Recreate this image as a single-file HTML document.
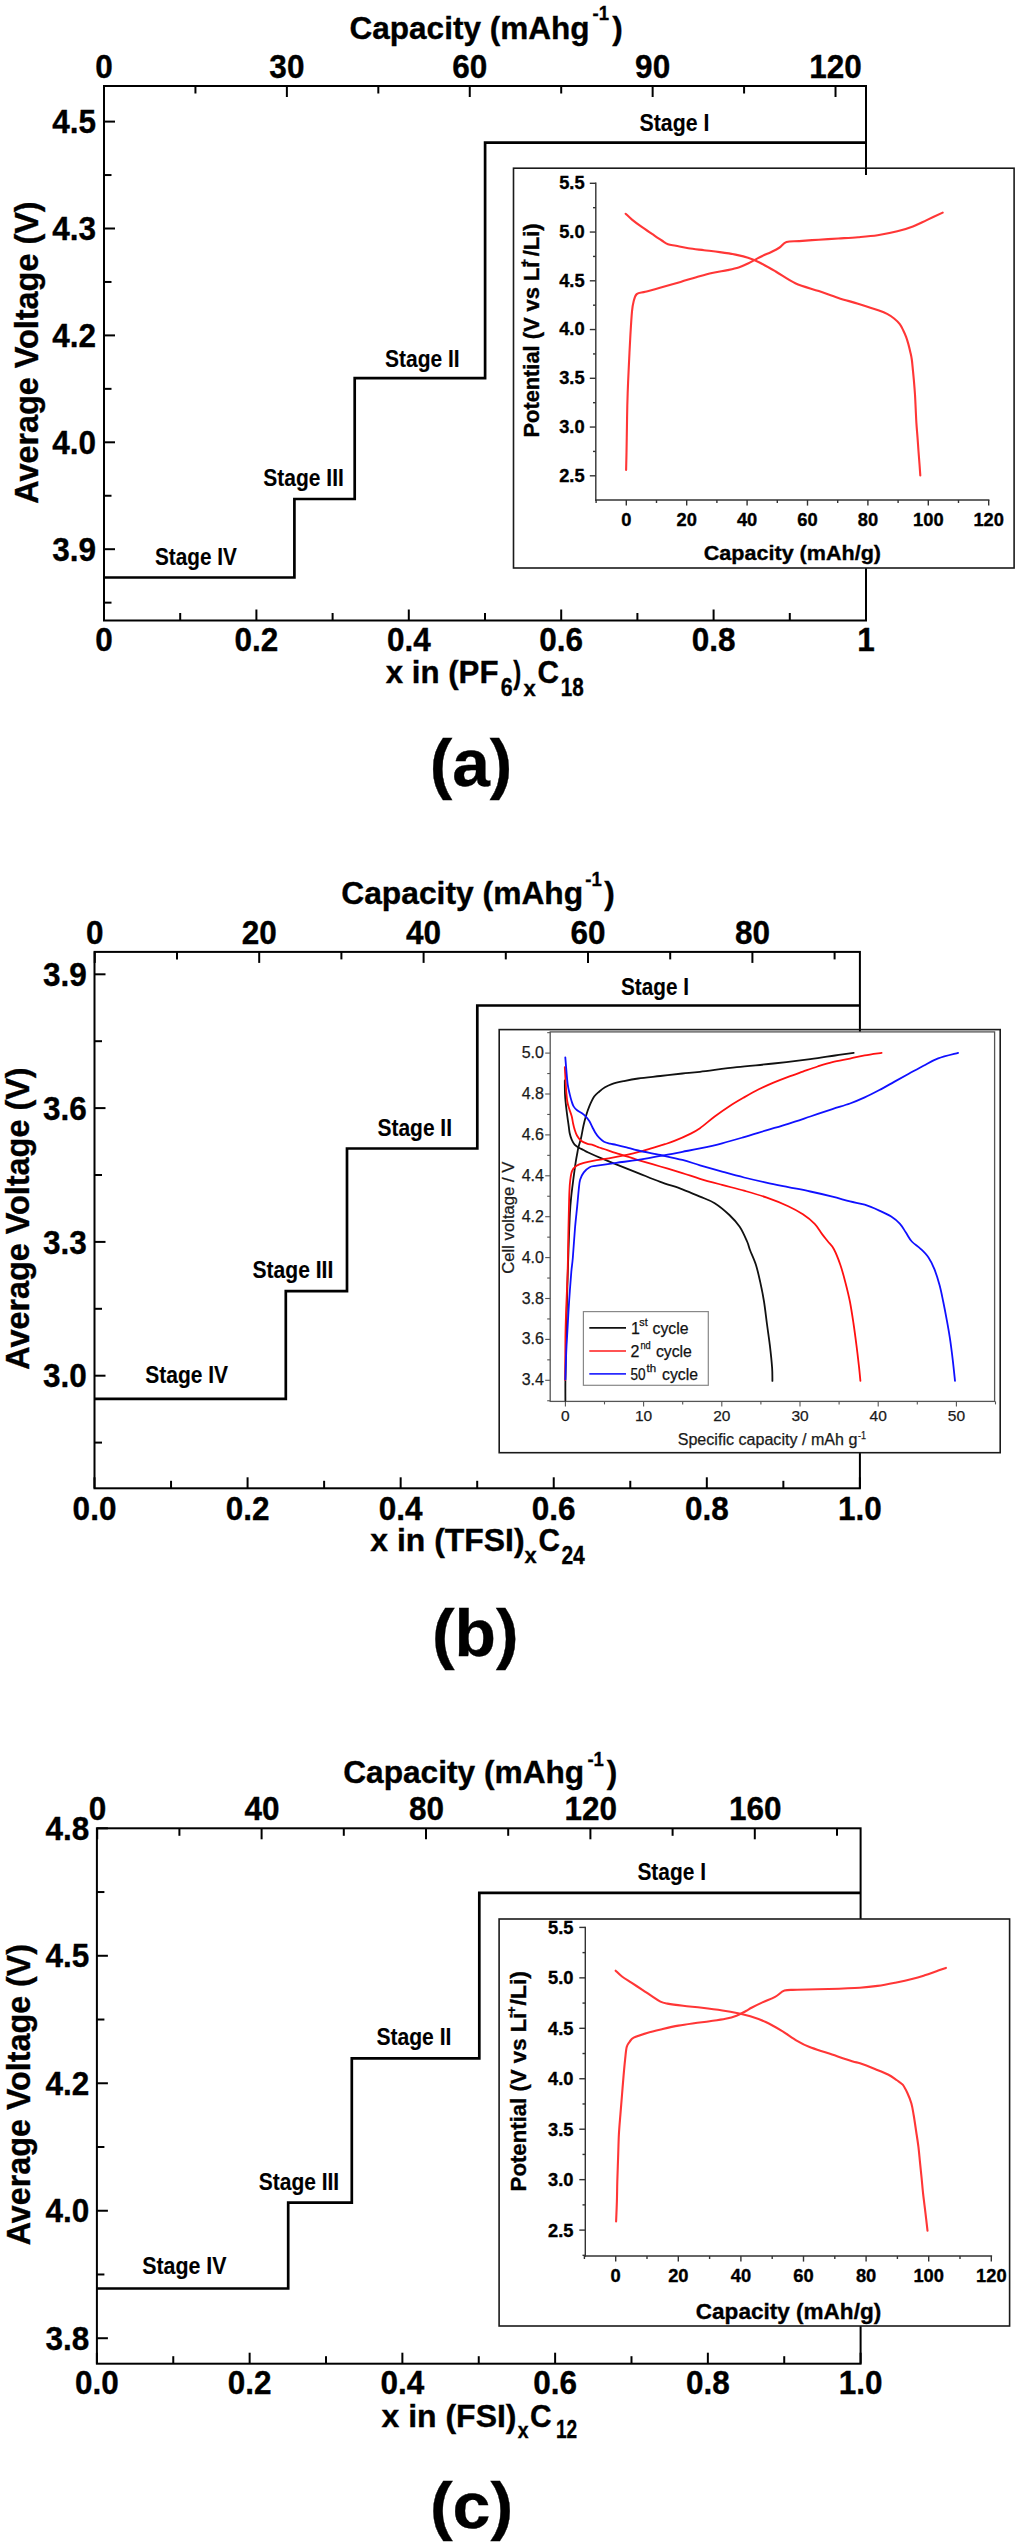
<!DOCTYPE html>
<html><head><meta charset="utf-8"><title>Figure</title>
<style>
html,body{margin:0;padding:0;background:#fff;}
body{width:1020px;height:2547px;overflow:hidden;}
svg{display:block;}
text{font-family:"Liberation Sans", Arial, Helvetica, sans-serif;}
</style></head><body>
<svg width="1020" height="2547" viewBox="0 0 1020 2547">
<rect x="0" y="0" width="1020" height="2547" fill="#fff"/>
<rect x="104" y="86" width="762" height="534.5" fill="none" stroke="#000" stroke-width="2"/>
<line x1="104" y1="121.6" x2="115" y2="121.6" stroke="#000" stroke-width="2" stroke-linecap="butt"/>
<line x1="104" y1="175.05" x2="111.5" y2="175.05" stroke="#000" stroke-width="2" stroke-linecap="butt"/>
<line x1="104" y1="228.5" x2="115" y2="228.5" stroke="#000" stroke-width="2" stroke-linecap="butt"/>
<line x1="104" y1="281.95" x2="111.5" y2="281.95" stroke="#000" stroke-width="2" stroke-linecap="butt"/>
<line x1="104" y1="335.4" x2="115" y2="335.4" stroke="#000" stroke-width="2" stroke-linecap="butt"/>
<line x1="104" y1="388.85" x2="111.5" y2="388.85" stroke="#000" stroke-width="2" stroke-linecap="butt"/>
<line x1="104" y1="442.3" x2="115" y2="442.3" stroke="#000" stroke-width="2" stroke-linecap="butt"/>
<line x1="104" y1="495.75" x2="111.5" y2="495.75" stroke="#000" stroke-width="2" stroke-linecap="butt"/>
<line x1="104" y1="549.2" x2="115" y2="549.2" stroke="#000" stroke-width="2" stroke-linecap="butt"/>
<line x1="104" y1="602.65" x2="111.5" y2="602.65" stroke="#000" stroke-width="2" stroke-linecap="butt"/>
<line x1="104" y1="86" x2="104" y2="97" stroke="#000" stroke-width="2" stroke-linecap="butt"/>
<line x1="195.44" y1="86" x2="195.44" y2="93.5" stroke="#000" stroke-width="2" stroke-linecap="butt"/>
<line x1="286.88" y1="86" x2="286.88" y2="97" stroke="#000" stroke-width="2" stroke-linecap="butt"/>
<line x1="378.32" y1="86" x2="378.32" y2="93.5" stroke="#000" stroke-width="2" stroke-linecap="butt"/>
<line x1="469.76" y1="86" x2="469.76" y2="97" stroke="#000" stroke-width="2" stroke-linecap="butt"/>
<line x1="561.2" y1="86" x2="561.2" y2="93.5" stroke="#000" stroke-width="2" stroke-linecap="butt"/>
<line x1="652.64" y1="86" x2="652.64" y2="97" stroke="#000" stroke-width="2" stroke-linecap="butt"/>
<line x1="744.08" y1="86" x2="744.08" y2="93.5" stroke="#000" stroke-width="2" stroke-linecap="butt"/>
<line x1="835.52" y1="86" x2="835.52" y2="97" stroke="#000" stroke-width="2" stroke-linecap="butt"/>
<line x1="104" y1="620.5" x2="104" y2="609.5" stroke="#000" stroke-width="2" stroke-linecap="butt"/>
<line x1="180.2" y1="620.5" x2="180.2" y2="613" stroke="#000" stroke-width="2" stroke-linecap="butt"/>
<line x1="256.4" y1="620.5" x2="256.4" y2="609.5" stroke="#000" stroke-width="2" stroke-linecap="butt"/>
<line x1="332.6" y1="620.5" x2="332.6" y2="613" stroke="#000" stroke-width="2" stroke-linecap="butt"/>
<line x1="408.8" y1="620.5" x2="408.8" y2="609.5" stroke="#000" stroke-width="2" stroke-linecap="butt"/>
<line x1="485" y1="620.5" x2="485" y2="613" stroke="#000" stroke-width="2" stroke-linecap="butt"/>
<line x1="561.2" y1="620.5" x2="561.2" y2="609.5" stroke="#000" stroke-width="2" stroke-linecap="butt"/>
<line x1="637.4" y1="620.5" x2="637.4" y2="613" stroke="#000" stroke-width="2" stroke-linecap="butt"/>
<line x1="713.6" y1="620.5" x2="713.6" y2="609.5" stroke="#000" stroke-width="2" stroke-linecap="butt"/>
<line x1="789.8" y1="620.5" x2="789.8" y2="613" stroke="#000" stroke-width="2" stroke-linecap="butt"/>
<line x1="866" y1="620.5" x2="866" y2="609.5" stroke="#000" stroke-width="2" stroke-linecap="butt"/>
<text transform="translate(96 133.2) scale(1 1.03)" font-size="31.5" font-weight="bold" text-anchor="end" stroke="#000" stroke-width="0.35">4.5</text>
<text transform="translate(96 240.1) scale(1 1.03)" font-size="31.5" font-weight="bold" text-anchor="end" stroke="#000" stroke-width="0.35">4.3</text>
<text transform="translate(96 347) scale(1 1.03)" font-size="31.5" font-weight="bold" text-anchor="end" stroke="#000" stroke-width="0.35">4.2</text>
<text transform="translate(96 453.9) scale(1 1.03)" font-size="31.5" font-weight="bold" text-anchor="end" stroke="#000" stroke-width="0.35">4.0</text>
<text transform="translate(96 560.8) scale(1 1.03)" font-size="31.5" font-weight="bold" text-anchor="end" stroke="#000" stroke-width="0.35">3.9</text>
<text transform="translate(104 78.3) scale(1 1.03)" font-size="31.5" font-weight="bold" text-anchor="middle" stroke="#000" stroke-width="0.35">0</text>
<text transform="translate(286.88 78.3) scale(1 1.03)" font-size="31.5" font-weight="bold" text-anchor="middle" stroke="#000" stroke-width="0.35">30</text>
<text transform="translate(469.76 78.3) scale(1 1.03)" font-size="31.5" font-weight="bold" text-anchor="middle" stroke="#000" stroke-width="0.35">60</text>
<text transform="translate(652.64 78.3) scale(1 1.03)" font-size="31.5" font-weight="bold" text-anchor="middle" stroke="#000" stroke-width="0.35">90</text>
<text transform="translate(835.52 78.3) scale(1 1.03)" font-size="31.5" font-weight="bold" text-anchor="middle" stroke="#000" stroke-width="0.35">120</text>
<text transform="translate(104 651.3) scale(1 1.03)" font-size="31.5" font-weight="bold" text-anchor="middle" stroke="#000" stroke-width="0.35">0</text>
<text transform="translate(256.4 651.3) scale(1 1.03)" font-size="31.5" font-weight="bold" text-anchor="middle" stroke="#000" stroke-width="0.35">0.2</text>
<text transform="translate(408.8 651.3) scale(1 1.03)" font-size="31.5" font-weight="bold" text-anchor="middle" stroke="#000" stroke-width="0.35">0.4</text>
<text transform="translate(561.2 651.3) scale(1 1.03)" font-size="31.5" font-weight="bold" text-anchor="middle" stroke="#000" stroke-width="0.35">0.6</text>
<text transform="translate(713.6 651.3) scale(1 1.03)" font-size="31.5" font-weight="bold" text-anchor="middle" stroke="#000" stroke-width="0.35">0.8</text>
<text transform="translate(866 651.3) scale(1 1.03)" font-size="31.5" font-weight="bold" text-anchor="middle" stroke="#000" stroke-width="0.35">1</text>
<text transform="translate(349.5 38.8)" font-size="31.5" font-weight="bold" textLength="240" lengthAdjust="spacingAndGlyphs" stroke="#000" stroke-width="0.35">Capacity (mAhg</text>
<text transform="translate(592.5 20)" font-size="20" font-weight="bold" textLength="16.5" lengthAdjust="spacingAndGlyphs" stroke="#000" stroke-width="0.35">-1</text>
<text transform="translate(612.3 38.8)" font-size="31.5" font-weight="bold" textLength="10.5" lengthAdjust="spacingAndGlyphs" stroke="#000" stroke-width="0.35">)</text>
<text transform="translate(38 503.8) rotate(-90)" font-size="32.5" font-weight="bold" textLength="302.4" lengthAdjust="spacingAndGlyphs" stroke="#000" stroke-width="0.35">Average Voltage (V)</text>
<text transform="translate(385.7 683.4)" font-size="30.5" font-weight="bold" textLength="112.8" lengthAdjust="spacingAndGlyphs" stroke="#000" stroke-width="0.35">x in (PF</text>
<text transform="translate(500.8 695.6)" font-size="25" font-weight="bold" textLength="11.9" lengthAdjust="spacingAndGlyphs" stroke="#000" stroke-width="0.35">6</text>
<text transform="translate(513.3 683.4)" font-size="30.5" font-weight="bold" textLength="8" lengthAdjust="spacingAndGlyphs" stroke="#000" stroke-width="0.35">)</text>
<text transform="translate(523.4 695.6)" font-size="22" font-weight="bold" textLength="12.3" lengthAdjust="spacingAndGlyphs" stroke="#000" stroke-width="0.35">x</text>
<text transform="translate(537.5 683.4)" font-size="30.5" font-weight="bold" textLength="21.5" lengthAdjust="spacingAndGlyphs" stroke="#000" stroke-width="0.35">C</text>
<text transform="translate(560.8 695.6)" font-size="25" font-weight="bold" textLength="23" lengthAdjust="spacingAndGlyphs" stroke="#000" stroke-width="0.35">18</text>
<text transform="translate(429.7 785.9)" font-size="66.5" font-weight="bold" textLength="82.6" lengthAdjust="spacingAndGlyphs" stroke="#000" stroke-width="0.35">(a)</text>
<path d="M104 577.5 H294.4 V499 H354.7 V378.2 H485.1 V142.7 H866" fill="none" stroke="#000" stroke-width="2.7" stroke-linejoin="miter" stroke-linecap="butt"/>
<text transform="translate(155 565) scale(1 1.1)" font-size="21" font-weight="bold" textLength="81.8" lengthAdjust="spacingAndGlyphs" stroke="#000" stroke-width="0.1">Stage IV</text>
<text transform="translate(263.3 485.5) scale(1 1.1)" font-size="21" font-weight="bold" textLength="80.5" lengthAdjust="spacingAndGlyphs" stroke="#000" stroke-width="0.1">Stage III</text>
<text transform="translate(385 367.2) scale(1 1.1)" font-size="21" font-weight="bold" textLength="74.6" lengthAdjust="spacingAndGlyphs" stroke="#000" stroke-width="0.1">Stage II</text>
<text transform="translate(639.5 130.6) scale(1 1.1)" font-size="21" font-weight="bold" textLength="69.8" lengthAdjust="spacingAndGlyphs" stroke="#000" stroke-width="0.1">Stage I</text>
<rect x="513.5" y="168.2" width="500.6" height="399.8" fill="#fff"/>
<rect x="513.5" y="168.2" width="500.6" height="399.8" fill="none" stroke="#1a1a1a" stroke-width="1.6"/>
<line x1="866" y1="168" x2="866" y2="175" stroke="#000" stroke-width="2" stroke-linecap="butt"/>
<line x1="595.8" y1="182.6" x2="595.8" y2="500.7" stroke="#333" stroke-width="1.4" stroke-linecap="butt"/>
<line x1="595.1" y1="500" x2="989.4" y2="500" stroke="#333" stroke-width="1.4" stroke-linecap="butt"/>
<line x1="589.8" y1="183.3" x2="595.8" y2="183.3" stroke="#333" stroke-width="1.4" stroke-linecap="butt"/>
<line x1="593" y1="207.68" x2="595.8" y2="207.68" stroke="#333" stroke-width="1.4" stroke-linecap="butt"/>
<line x1="589.8" y1="232.05" x2="595.8" y2="232.05" stroke="#333" stroke-width="1.4" stroke-linecap="butt"/>
<line x1="593" y1="256.43" x2="595.8" y2="256.43" stroke="#333" stroke-width="1.4" stroke-linecap="butt"/>
<line x1="589.8" y1="280.8" x2="595.8" y2="280.8" stroke="#333" stroke-width="1.4" stroke-linecap="butt"/>
<line x1="593" y1="305.18" x2="595.8" y2="305.18" stroke="#333" stroke-width="1.4" stroke-linecap="butt"/>
<line x1="589.8" y1="329.55" x2="595.8" y2="329.55" stroke="#333" stroke-width="1.4" stroke-linecap="butt"/>
<line x1="593" y1="353.93" x2="595.8" y2="353.93" stroke="#333" stroke-width="1.4" stroke-linecap="butt"/>
<line x1="589.8" y1="378.3" x2="595.8" y2="378.3" stroke="#333" stroke-width="1.4" stroke-linecap="butt"/>
<line x1="593" y1="402.68" x2="595.8" y2="402.68" stroke="#333" stroke-width="1.4" stroke-linecap="butt"/>
<line x1="589.8" y1="427.05" x2="595.8" y2="427.05" stroke="#333" stroke-width="1.4" stroke-linecap="butt"/>
<line x1="593" y1="451.43" x2="595.8" y2="451.43" stroke="#333" stroke-width="1.4" stroke-linecap="butt"/>
<line x1="589.8" y1="475.8" x2="595.8" y2="475.8" stroke="#333" stroke-width="1.4" stroke-linecap="butt"/>
<line x1="596.1" y1="500" x2="596.1" y2="503" stroke="#333" stroke-width="1.4" stroke-linecap="butt"/>
<line x1="626.3" y1="500" x2="626.3" y2="505.6" stroke="#333" stroke-width="1.4" stroke-linecap="butt"/>
<line x1="656.5" y1="500" x2="656.5" y2="503" stroke="#333" stroke-width="1.4" stroke-linecap="butt"/>
<line x1="686.7" y1="500" x2="686.7" y2="505.6" stroke="#333" stroke-width="1.4" stroke-linecap="butt"/>
<line x1="716.9" y1="500" x2="716.9" y2="503" stroke="#333" stroke-width="1.4" stroke-linecap="butt"/>
<line x1="747.1" y1="500" x2="747.1" y2="505.6" stroke="#333" stroke-width="1.4" stroke-linecap="butt"/>
<line x1="777.3" y1="500" x2="777.3" y2="503" stroke="#333" stroke-width="1.4" stroke-linecap="butt"/>
<line x1="807.5" y1="500" x2="807.5" y2="505.6" stroke="#333" stroke-width="1.4" stroke-linecap="butt"/>
<line x1="837.7" y1="500" x2="837.7" y2="503" stroke="#333" stroke-width="1.4" stroke-linecap="butt"/>
<line x1="867.9" y1="500" x2="867.9" y2="505.6" stroke="#333" stroke-width="1.4" stroke-linecap="butt"/>
<line x1="898.1" y1="500" x2="898.1" y2="503" stroke="#333" stroke-width="1.4" stroke-linecap="butt"/>
<line x1="928.3" y1="500" x2="928.3" y2="505.6" stroke="#333" stroke-width="1.4" stroke-linecap="butt"/>
<line x1="958.5" y1="500" x2="958.5" y2="503" stroke="#333" stroke-width="1.4" stroke-linecap="butt"/>
<line x1="988.7" y1="500" x2="988.7" y2="505.6" stroke="#333" stroke-width="1.4" stroke-linecap="butt"/>
<text transform="translate(584.6 189)" font-size="18.3" font-weight="bold" text-anchor="end" stroke="#000" stroke-width="0.35">5.5</text>
<text transform="translate(584.6 237.75)" font-size="18.3" font-weight="bold" text-anchor="end" stroke="#000" stroke-width="0.35">5.0</text>
<text transform="translate(584.6 286.5)" font-size="18.3" font-weight="bold" text-anchor="end" stroke="#000" stroke-width="0.35">4.5</text>
<text transform="translate(584.6 335.25)" font-size="18.3" font-weight="bold" text-anchor="end" stroke="#000" stroke-width="0.35">4.0</text>
<text transform="translate(584.6 384)" font-size="18.3" font-weight="bold" text-anchor="end" stroke="#000" stroke-width="0.35">3.5</text>
<text transform="translate(584.6 432.75)" font-size="18.3" font-weight="bold" text-anchor="end" stroke="#000" stroke-width="0.35">3.0</text>
<text transform="translate(584.6 481.5)" font-size="18.3" font-weight="bold" text-anchor="end" stroke="#000" stroke-width="0.35">2.5</text>
<text transform="translate(626.3 526.3)" font-size="18.3" font-weight="bold" text-anchor="middle" stroke="#000" stroke-width="0.35">0</text>
<text transform="translate(686.7 526.3)" font-size="18.3" font-weight="bold" text-anchor="middle" stroke="#000" stroke-width="0.35">20</text>
<text transform="translate(747.1 526.3)" font-size="18.3" font-weight="bold" text-anchor="middle" stroke="#000" stroke-width="0.35">40</text>
<text transform="translate(807.5 526.3)" font-size="18.3" font-weight="bold" text-anchor="middle" stroke="#000" stroke-width="0.35">60</text>
<text transform="translate(867.9 526.3)" font-size="18.3" font-weight="bold" text-anchor="middle" stroke="#000" stroke-width="0.35">80</text>
<text transform="translate(928.3 526.3)" font-size="18.3" font-weight="bold" text-anchor="middle" stroke="#000" stroke-width="0.35">100</text>
<text transform="translate(988.7 526.3)" font-size="18.3" font-weight="bold" text-anchor="middle" stroke="#000" stroke-width="0.35">120</text>
<text transform="translate(539.2 437.5) rotate(-90)" font-size="21.7" font-weight="bold" textLength="175.8" lengthAdjust="spacingAndGlyphs" stroke="#000" stroke-width="0.35">Potential (V vs Li</text>
<text transform="translate(528.8 266.5) rotate(-90)" font-size="13" font-weight="bold" stroke="#000" stroke-width="0.35">+</text>
<text transform="translate(539.2 256.3) rotate(-90)" font-size="21.7" font-weight="bold" textLength="33" lengthAdjust="spacingAndGlyphs" stroke="#000" stroke-width="0.35">/Li)</text>
<text transform="translate(703.8 560)" font-size="20.8" font-weight="bold" textLength="177.2" lengthAdjust="spacingAndGlyphs" stroke="#000" stroke-width="0.35">Capacity (mAh/g)</text>
<path d="M625.7 213.8 C626.75 214.77 629.38 217.45 632 219.6 C634.62 221.75 638 224.27 641.4 226.7 C644.8 229.13 649 231.9 652.4 234.2 C655.8 236.5 659.2 238.83 661.8 240.5 C664.4 242.17 665.65 243.32 668 244.2 C670.35 245.08 672.5 245.12 675.9 245.8 C679.3 246.48 683.7 247.57 688.4 248.3 C693.1 249.03 698.87 249.57 704.1 250.2 C709.33 250.83 714.57 251.37 719.8 252.1 C725.03 252.83 730.8 253.67 735.5 254.6 C740.2 255.53 744.08 256.43 748 257.7 C751.92 258.97 754.38 259.9 759 262.2 C763.62 264.5 769.65 268 775.7 271.5 C781.75 275 788.12 279.93 795.3 283.2 C802.48 286.47 811.62 288.65 818.8 291.1 C825.98 293.55 831.87 295.78 838.4 297.9 C844.93 300.02 851.23 301.68 858 303.8 C864.77 305.92 874.15 308.92 879 310.6 C883.85 312.28 884.58 312.58 887.1 313.9 C889.62 315.22 891.98 316.8 894.1 318.5 C896.22 320.2 898.27 322.1 899.8 324.1 C901.33 326.1 902.25 328.37 903.3 330.5 C904.35 332.63 905.27 334.67 906.1 336.9 C906.93 339.13 907.58 341.32 908.3 343.9 C909.02 346.48 909.82 349.8 910.4 352.4 C910.98 355 911.38 356.55 911.8 359.5 C912.22 362.45 912.55 366.57 912.9 370.1 C913.25 373.63 913.55 376.58 913.9 380.7 C914.25 384.82 914.7 390.1 915 394.8 C915.3 399.5 915.47 404.18 915.7 408.9 C915.93 413.62 916.1 418.38 916.4 423.1 C916.7 427.82 917.15 432.5 917.5 437.2 C917.85 441.9 918.15 446.58 918.5 451.3 C918.85 456.02 919.3 461.48 919.6 465.5 C919.9 469.52 920.18 473.75 920.3 475.4" fill="none" stroke="#ff3636" stroke-width="2.1" stroke-linejoin="round" stroke-linecap="round"/>
<path d="M626.1 470 C626.17 467.12 626.37 459.52 626.5 452.7 C626.63 445.88 626.77 436.95 626.9 429.1 C627.03 421.25 627.1 413.45 627.3 405.6 C627.5 397.75 627.78 389.85 628.1 382 C628.42 374.15 628.82 366.33 629.2 358.5 C629.58 350.67 629.93 342.85 630.4 335 C630.87 327.15 631.48 316.9 632 311.4 C632.52 305.9 632.72 304.88 633.5 302 C634.28 299.12 634.73 295.8 636.7 294.1 C638.67 292.4 641.42 292.85 645.3 291.8 C649.18 290.75 654.12 289.45 660 287.8 C665.88 286.15 674.55 283.67 680.6 281.9 C686.65 280.13 691.07 278.7 696.3 277.2 C701.53 275.7 706.78 274.08 712 272.9 C717.22 271.72 723.17 271 727.6 270.1 C732.03 269.2 735.2 268.6 738.6 267.5 C742 266.4 744.85 265.02 748 263.5 C751.15 261.98 754.5 259.93 757.5 258.4 C760.5 256.87 763.62 255.4 766 254.3 C768.38 253.2 769.53 252.93 771.8 251.8 C774.07 250.67 777.15 249.12 779.6 247.5 C782.05 245.88 783.23 243.17 786.5 242.1 C789.77 241.03 793.82 241.5 799.2 241.1 C804.58 240.7 812.27 240.13 818.8 239.7 C825.33 239.27 831.87 238.92 838.4 238.5 C844.93 238.08 851.47 237.75 858 237.2 C864.53 236.65 871.05 236.18 877.6 235.2 C884.15 234.22 891.42 232.77 897.3 231.3 C903.18 229.83 908 228.27 912.9 226.4 C917.8 224.53 921.73 222.4 926.7 220.1 C931.67 217.8 940.03 213.85 942.7 212.6" fill="none" stroke="#ff3636" stroke-width="2.1" stroke-linejoin="round" stroke-linecap="round"/>
<rect x="94.5" y="951.9" width="765.4" height="536.4" fill="none" stroke="#000" stroke-width="2"/>
<line x1="94.5" y1="974.3" x2="105.5" y2="974.3" stroke="#000" stroke-width="2" stroke-linecap="butt"/>
<line x1="94.5" y1="1041.2" x2="102" y2="1041.2" stroke="#000" stroke-width="2" stroke-linecap="butt"/>
<line x1="94.5" y1="1108.1" x2="105.5" y2="1108.1" stroke="#000" stroke-width="2" stroke-linecap="butt"/>
<line x1="94.5" y1="1175" x2="102" y2="1175" stroke="#000" stroke-width="2" stroke-linecap="butt"/>
<line x1="94.5" y1="1241.9" x2="105.5" y2="1241.9" stroke="#000" stroke-width="2" stroke-linecap="butt"/>
<line x1="94.5" y1="1308.8" x2="102" y2="1308.8" stroke="#000" stroke-width="2" stroke-linecap="butt"/>
<line x1="94.5" y1="1375.7" x2="105.5" y2="1375.7" stroke="#000" stroke-width="2" stroke-linecap="butt"/>
<line x1="94.5" y1="1442.6" x2="102" y2="1442.6" stroke="#000" stroke-width="2" stroke-linecap="butt"/>
<line x1="94.8" y1="951.9" x2="94.8" y2="962.9" stroke="#000" stroke-width="2" stroke-linecap="butt"/>
<line x1="177" y1="951.9" x2="177" y2="959.4" stroke="#000" stroke-width="2" stroke-linecap="butt"/>
<line x1="259.2" y1="951.9" x2="259.2" y2="962.9" stroke="#000" stroke-width="2" stroke-linecap="butt"/>
<line x1="341.4" y1="951.9" x2="341.4" y2="959.4" stroke="#000" stroke-width="2" stroke-linecap="butt"/>
<line x1="423.6" y1="951.9" x2="423.6" y2="962.9" stroke="#000" stroke-width="2" stroke-linecap="butt"/>
<line x1="505.8" y1="951.9" x2="505.8" y2="959.4" stroke="#000" stroke-width="2" stroke-linecap="butt"/>
<line x1="588" y1="951.9" x2="588" y2="962.9" stroke="#000" stroke-width="2" stroke-linecap="butt"/>
<line x1="670.2" y1="951.9" x2="670.2" y2="959.4" stroke="#000" stroke-width="2" stroke-linecap="butt"/>
<line x1="752.4" y1="951.9" x2="752.4" y2="962.9" stroke="#000" stroke-width="2" stroke-linecap="butt"/>
<line x1="834.6" y1="951.9" x2="834.6" y2="959.4" stroke="#000" stroke-width="2" stroke-linecap="butt"/>
<line x1="94.5" y1="1488.3" x2="94.5" y2="1477.3" stroke="#000" stroke-width="2" stroke-linecap="butt"/>
<line x1="171.04" y1="1488.3" x2="171.04" y2="1480.8" stroke="#000" stroke-width="2" stroke-linecap="butt"/>
<line x1="247.58" y1="1488.3" x2="247.58" y2="1477.3" stroke="#000" stroke-width="2" stroke-linecap="butt"/>
<line x1="324.12" y1="1488.3" x2="324.12" y2="1480.8" stroke="#000" stroke-width="2" stroke-linecap="butt"/>
<line x1="400.66" y1="1488.3" x2="400.66" y2="1477.3" stroke="#000" stroke-width="2" stroke-linecap="butt"/>
<line x1="477.2" y1="1488.3" x2="477.2" y2="1480.8" stroke="#000" stroke-width="2" stroke-linecap="butt"/>
<line x1="553.74" y1="1488.3" x2="553.74" y2="1477.3" stroke="#000" stroke-width="2" stroke-linecap="butt"/>
<line x1="630.28" y1="1488.3" x2="630.28" y2="1480.8" stroke="#000" stroke-width="2" stroke-linecap="butt"/>
<line x1="706.82" y1="1488.3" x2="706.82" y2="1477.3" stroke="#000" stroke-width="2" stroke-linecap="butt"/>
<line x1="783.36" y1="1488.3" x2="783.36" y2="1480.8" stroke="#000" stroke-width="2" stroke-linecap="butt"/>
<line x1="859.9" y1="1488.3" x2="859.9" y2="1477.3" stroke="#000" stroke-width="2" stroke-linecap="butt"/>
<text transform="translate(86.8 985.9) scale(1 1.03)" font-size="31.5" font-weight="bold" text-anchor="end" stroke="#000" stroke-width="0.35">3.9</text>
<text transform="translate(86.8 1119.7) scale(1 1.03)" font-size="31.5" font-weight="bold" text-anchor="end" stroke="#000" stroke-width="0.35">3.6</text>
<text transform="translate(86.8 1253.5) scale(1 1.03)" font-size="31.5" font-weight="bold" text-anchor="end" stroke="#000" stroke-width="0.35">3.3</text>
<text transform="translate(86.8 1387.3) scale(1 1.03)" font-size="31.5" font-weight="bold" text-anchor="end" stroke="#000" stroke-width="0.35">3.0</text>
<text transform="translate(94.8 944) scale(1 1.03)" font-size="31.5" font-weight="bold" text-anchor="middle" stroke="#000" stroke-width="0.35">0</text>
<text transform="translate(259.2 944) scale(1 1.03)" font-size="31.5" font-weight="bold" text-anchor="middle" stroke="#000" stroke-width="0.35">20</text>
<text transform="translate(423.6 944) scale(1 1.03)" font-size="31.5" font-weight="bold" text-anchor="middle" stroke="#000" stroke-width="0.35">40</text>
<text transform="translate(588 944) scale(1 1.03)" font-size="31.5" font-weight="bold" text-anchor="middle" stroke="#000" stroke-width="0.35">60</text>
<text transform="translate(752.4 944) scale(1 1.03)" font-size="31.5" font-weight="bold" text-anchor="middle" stroke="#000" stroke-width="0.35">80</text>
<text transform="translate(94.5 1520.2) scale(1 1.03)" font-size="31.5" font-weight="bold" text-anchor="middle" stroke="#000" stroke-width="0.35">0.0</text>
<text transform="translate(247.58 1520.2) scale(1 1.03)" font-size="31.5" font-weight="bold" text-anchor="middle" stroke="#000" stroke-width="0.35">0.2</text>
<text transform="translate(400.66 1520.2) scale(1 1.03)" font-size="31.5" font-weight="bold" text-anchor="middle" stroke="#000" stroke-width="0.35">0.4</text>
<text transform="translate(553.74 1520.2) scale(1 1.03)" font-size="31.5" font-weight="bold" text-anchor="middle" stroke="#000" stroke-width="0.35">0.6</text>
<text transform="translate(706.82 1520.2) scale(1 1.03)" font-size="31.5" font-weight="bold" text-anchor="middle" stroke="#000" stroke-width="0.35">0.8</text>
<text transform="translate(859.9 1520.2) scale(1 1.03)" font-size="31.5" font-weight="bold" text-anchor="middle" stroke="#000" stroke-width="0.35">1.0</text>
<text transform="translate(341.2 904.4)" font-size="31.5" font-weight="bold" textLength="242" lengthAdjust="spacingAndGlyphs" stroke="#000" stroke-width="0.35">Capacity (mAhg</text>
<text transform="translate(585.3 885.8)" font-size="20" font-weight="bold" textLength="16.5" lengthAdjust="spacingAndGlyphs" stroke="#000" stroke-width="0.35">-1</text>
<text transform="translate(604.3 904.4)" font-size="31.5" font-weight="bold" textLength="10.5" lengthAdjust="spacingAndGlyphs" stroke="#000" stroke-width="0.35">)</text>
<text transform="translate(28.7 1369.8) rotate(-90)" font-size="32.5" font-weight="bold" textLength="302.4" lengthAdjust="spacingAndGlyphs" stroke="#000" stroke-width="0.35">Average Voltage (V)</text>
<text transform="translate(370.3 1551)" font-size="30.5" font-weight="bold" textLength="154.3" lengthAdjust="spacingAndGlyphs" stroke="#000" stroke-width="0.35">x in (TFSI)</text>
<text transform="translate(524.4 1563.4)" font-size="22" font-weight="bold" textLength="12.2" lengthAdjust="spacingAndGlyphs" stroke="#000" stroke-width="0.35">x</text>
<text transform="translate(538.4 1551.2)" font-size="30.5" font-weight="bold" textLength="21.5" lengthAdjust="spacingAndGlyphs" stroke="#000" stroke-width="0.35">C</text>
<text transform="translate(561.4 1563.8)" font-size="25" font-weight="bold" textLength="23.4" lengthAdjust="spacingAndGlyphs" stroke="#000" stroke-width="0.35">24</text>
<text transform="translate(431.9 1656.2)" font-size="66" font-weight="bold" textLength="86.6" lengthAdjust="spacingAndGlyphs" stroke="#000" stroke-width="0.35">(b)</text>
<path d="M94.5 1398.8 H285.8 V1291.2 H347 V1148.5 H477.3 V1005.5 H859.8" fill="none" stroke="#000" stroke-width="2.7" stroke-linejoin="miter" stroke-linecap="butt"/>
<text transform="translate(145.3 1383.3) scale(1 1.1)" font-size="21" font-weight="bold" textLength="82.8" lengthAdjust="spacingAndGlyphs" stroke="#000" stroke-width="0.1">Stage IV</text>
<text transform="translate(252.5 1277.6) scale(1 1.1)" font-size="21" font-weight="bold" textLength="80.8" lengthAdjust="spacingAndGlyphs" stroke="#000" stroke-width="0.1">Stage III</text>
<text transform="translate(377.5 1135.8) scale(1 1.1)" font-size="21" font-weight="bold" textLength="74.5" lengthAdjust="spacingAndGlyphs" stroke="#000" stroke-width="0.1">Stage II</text>
<text transform="translate(621 995.2) scale(1 1.1)" font-size="21" font-weight="bold" textLength="68" lengthAdjust="spacingAndGlyphs" stroke="#000" stroke-width="0.1">Stage I</text>
<rect x="499.2" y="1029.6" width="501" height="423.1" fill="#fff"/>
<rect x="499.2" y="1029.6" width="501" height="423.1" fill="none" stroke="#1a1a1a" stroke-width="1.6"/>
<line x1="859.9" y1="1029.6" x2="859.9" y2="1032" stroke="#000" stroke-width="2" stroke-linecap="butt"/>
<rect x="550.2" y="1031.9" width="444.4" height="369.5" fill="none" stroke="#555" stroke-width="1.3"/>
<line x1="547.2" y1="1032.65" x2="550.2" y2="1032.65" stroke="#555" stroke-width="1.1" stroke-linecap="butt"/>
<line x1="545.2" y1="1053.1" x2="550.2" y2="1053.1" stroke="#555" stroke-width="1.1" stroke-linecap="butt"/>
<line x1="547.2" y1="1073.55" x2="550.2" y2="1073.55" stroke="#555" stroke-width="1.1" stroke-linecap="butt"/>
<line x1="545.2" y1="1094" x2="550.2" y2="1094" stroke="#555" stroke-width="1.1" stroke-linecap="butt"/>
<line x1="547.2" y1="1114.45" x2="550.2" y2="1114.45" stroke="#555" stroke-width="1.1" stroke-linecap="butt"/>
<line x1="545.2" y1="1134.9" x2="550.2" y2="1134.9" stroke="#555" stroke-width="1.1" stroke-linecap="butt"/>
<line x1="547.2" y1="1155.35" x2="550.2" y2="1155.35" stroke="#555" stroke-width="1.1" stroke-linecap="butt"/>
<line x1="545.2" y1="1175.8" x2="550.2" y2="1175.8" stroke="#555" stroke-width="1.1" stroke-linecap="butt"/>
<line x1="547.2" y1="1196.25" x2="550.2" y2="1196.25" stroke="#555" stroke-width="1.1" stroke-linecap="butt"/>
<line x1="545.2" y1="1216.7" x2="550.2" y2="1216.7" stroke="#555" stroke-width="1.1" stroke-linecap="butt"/>
<line x1="547.2" y1="1237.15" x2="550.2" y2="1237.15" stroke="#555" stroke-width="1.1" stroke-linecap="butt"/>
<line x1="545.2" y1="1257.6" x2="550.2" y2="1257.6" stroke="#555" stroke-width="1.1" stroke-linecap="butt"/>
<line x1="547.2" y1="1278.05" x2="550.2" y2="1278.05" stroke="#555" stroke-width="1.1" stroke-linecap="butt"/>
<line x1="545.2" y1="1298.5" x2="550.2" y2="1298.5" stroke="#555" stroke-width="1.1" stroke-linecap="butt"/>
<line x1="547.2" y1="1318.95" x2="550.2" y2="1318.95" stroke="#555" stroke-width="1.1" stroke-linecap="butt"/>
<line x1="545.2" y1="1339.4" x2="550.2" y2="1339.4" stroke="#555" stroke-width="1.1" stroke-linecap="butt"/>
<line x1="547.2" y1="1359.85" x2="550.2" y2="1359.85" stroke="#555" stroke-width="1.1" stroke-linecap="butt"/>
<line x1="545.2" y1="1380.3" x2="550.2" y2="1380.3" stroke="#555" stroke-width="1.1" stroke-linecap="butt"/>
<line x1="547.2" y1="1400.75" x2="550.2" y2="1400.75" stroke="#555" stroke-width="1.1" stroke-linecap="butt"/>
<line x1="565.4" y1="1401.4" x2="565.4" y2="1406.4" stroke="#555" stroke-width="1.1" stroke-linecap="butt"/>
<line x1="604.5" y1="1401.4" x2="604.5" y2="1404.4" stroke="#555" stroke-width="1.1" stroke-linecap="butt"/>
<line x1="643.6" y1="1401.4" x2="643.6" y2="1406.4" stroke="#555" stroke-width="1.1" stroke-linecap="butt"/>
<line x1="682.7" y1="1401.4" x2="682.7" y2="1404.4" stroke="#555" stroke-width="1.1" stroke-linecap="butt"/>
<line x1="721.8" y1="1401.4" x2="721.8" y2="1406.4" stroke="#555" stroke-width="1.1" stroke-linecap="butt"/>
<line x1="760.9" y1="1401.4" x2="760.9" y2="1404.4" stroke="#555" stroke-width="1.1" stroke-linecap="butt"/>
<line x1="800" y1="1401.4" x2="800" y2="1406.4" stroke="#555" stroke-width="1.1" stroke-linecap="butt"/>
<line x1="839.1" y1="1401.4" x2="839.1" y2="1404.4" stroke="#555" stroke-width="1.1" stroke-linecap="butt"/>
<line x1="878.2" y1="1401.4" x2="878.2" y2="1406.4" stroke="#555" stroke-width="1.1" stroke-linecap="butt"/>
<line x1="917.3" y1="1401.4" x2="917.3" y2="1404.4" stroke="#555" stroke-width="1.1" stroke-linecap="butt"/>
<line x1="956.4" y1="1401.4" x2="956.4" y2="1406.4" stroke="#555" stroke-width="1.1" stroke-linecap="butt"/>
<line x1="995.5" y1="1401.4" x2="995.5" y2="1404.4" stroke="#555" stroke-width="1.1" stroke-linecap="butt"/>
<text transform="translate(543.9 1058.1)" font-size="16" text-anchor="end" fill="#1a1a1a" stroke="#1a1a1a" stroke-width="0.25">5.0</text>
<text transform="translate(543.9 1099)" font-size="16" text-anchor="end" fill="#1a1a1a" stroke="#1a1a1a" stroke-width="0.25">4.8</text>
<text transform="translate(543.9 1139.9)" font-size="16" text-anchor="end" fill="#1a1a1a" stroke="#1a1a1a" stroke-width="0.25">4.6</text>
<text transform="translate(543.9 1180.8)" font-size="16" text-anchor="end" fill="#1a1a1a" stroke="#1a1a1a" stroke-width="0.25">4.4</text>
<text transform="translate(543.9 1221.7)" font-size="16" text-anchor="end" fill="#1a1a1a" stroke="#1a1a1a" stroke-width="0.25">4.2</text>
<text transform="translate(543.9 1262.6)" font-size="16" text-anchor="end" fill="#1a1a1a" stroke="#1a1a1a" stroke-width="0.25">4.0</text>
<text transform="translate(543.9 1303.5)" font-size="16" text-anchor="end" fill="#1a1a1a" stroke="#1a1a1a" stroke-width="0.25">3.8</text>
<text transform="translate(543.9 1344.4)" font-size="16" text-anchor="end" fill="#1a1a1a" stroke="#1a1a1a" stroke-width="0.25">3.6</text>
<text transform="translate(543.9 1385.3)" font-size="16" text-anchor="end" fill="#1a1a1a" stroke="#1a1a1a" stroke-width="0.25">3.4</text>
<text transform="translate(565.4 1421.3)" font-size="15.5" text-anchor="middle" fill="#1a1a1a" stroke="#1a1a1a" stroke-width="0.25">0</text>
<text transform="translate(643.6 1421.3)" font-size="15.5" text-anchor="middle" fill="#1a1a1a" stroke="#1a1a1a" stroke-width="0.25">10</text>
<text transform="translate(721.8 1421.3)" font-size="15.5" text-anchor="middle" fill="#1a1a1a" stroke="#1a1a1a" stroke-width="0.25">20</text>
<text transform="translate(800 1421.3)" font-size="15.5" text-anchor="middle" fill="#1a1a1a" stroke="#1a1a1a" stroke-width="0.25">30</text>
<text transform="translate(878.2 1421.3)" font-size="15.5" text-anchor="middle" fill="#1a1a1a" stroke="#1a1a1a" stroke-width="0.25">40</text>
<text transform="translate(956.4 1421.3)" font-size="15.5" text-anchor="middle" fill="#1a1a1a" stroke="#1a1a1a" stroke-width="0.25">50</text>
<text transform="translate(514.3 1273.7) rotate(-90)" font-size="16" textLength="112" lengthAdjust="spacingAndGlyphs" fill="#1a1a1a" stroke="#1a1a1a" stroke-width="0.25">Cell voltage / V</text>
<text transform="translate(677.7 1444.6)" font-size="16" textLength="179.7" lengthAdjust="spacingAndGlyphs" fill="#1a1a1a" stroke="#1a1a1a" stroke-width="0.25">Specific capacity / mAh g</text>
<text transform="translate(858 1438.5)" font-size="10" textLength="8" lengthAdjust="spacingAndGlyphs" fill="#1a1a1a" stroke="#1a1a1a" stroke-width="0.25">-1</text>
<path d="M565.4 1400.5 C565.4 1397.08 565.3 1388.42 565.4 1380 C565.5 1371.58 565.73 1363.33 566 1350 C566.27 1336.67 566.58 1316.67 567 1300 C567.42 1283.33 568.02 1264.42 568.5 1250 C568.98 1235.58 569.43 1222.52 569.9 1213.5 C570.37 1204.48 570.7 1201.78 571.3 1195.9 C571.9 1190.02 572.77 1183.83 573.5 1178.2 C574.23 1172.57 575.03 1166.47 575.7 1162.1 C576.37 1157.73 577.03 1154.52 577.5 1152 C577.97 1149.48 577.92 1149.3 578.5 1147 C579.08 1144.7 580.18 1141.7 581 1138.2 C581.82 1134.7 582.58 1129.67 583.4 1126 C584.22 1122.33 584.92 1119.47 585.9 1116.2 C586.88 1112.93 587.92 1109.67 589.3 1106.4 C590.68 1103.13 592.57 1099.05 594.2 1096.6 C595.83 1094.15 597.3 1093.25 599.1 1091.7 C600.9 1090.15 602.88 1088.57 605 1087.3 C607.12 1086.03 608.72 1085.12 611.8 1084.1 C614.88 1083.08 619.1 1082.13 623.5 1081.2 C627.9 1080.27 632.07 1079.37 638.2 1078.5 C644.33 1077.63 652.93 1076.83 660.3 1076 C667.67 1075.17 675.78 1074.2 682.4 1073.5 C689.02 1072.8 690.93 1072.85 700 1071.8 C709.07 1070.75 724.55 1068.58 736.8 1067.2 C749.05 1065.82 761.25 1064.85 773.5 1063.5 C785.75 1062.15 800.05 1060.43 810.3 1059.1 C820.55 1057.77 827.77 1056.53 835 1055.5 C842.23 1054.47 850.58 1053.33 853.7 1052.9" fill="none" stroke="#111" stroke-width="1.8" stroke-linejoin="round" stroke-linecap="round"/>
<path d="M564.8 1080.4 C564.83 1082.68 564.83 1090.18 565 1094.1 C565.17 1098.02 565.42 1100.22 565.8 1103.9 C566.18 1107.58 566.82 1112.52 567.3 1116.2 C567.78 1119.88 568.3 1123.15 568.7 1126 C569.1 1128.85 569.2 1131.02 569.7 1133.3 C570.2 1135.58 570.88 1137.82 571.7 1139.7 C572.52 1141.58 573.47 1143.3 574.6 1144.6 C575.73 1145.9 577.03 1146.6 578.5 1147.5 C579.97 1148.4 581.78 1149.17 583.4 1150 C585.02 1150.83 585.18 1151.1 588.2 1152.5 C591.22 1153.9 596.83 1156.43 601.5 1158.4 C606.17 1160.37 610.08 1161.85 616.2 1164.3 C622.32 1166.75 630.85 1170.17 638.2 1173.1 C645.55 1176.03 652.93 1179.2 660.3 1181.9 C667.67 1184.6 675.78 1186.85 682.4 1189.3 C689.02 1191.75 694.62 1194.28 700 1196.6 C705.38 1198.92 709.8 1200.13 714.7 1203.2 C719.6 1206.27 725.23 1211.07 729.4 1215 C733.57 1218.93 736.75 1222.38 739.7 1226.8 C742.65 1231.22 745.38 1237.63 747.1 1241.5 C748.82 1245.37 748.53 1246.13 750 1250 C751.47 1253.87 754.18 1259.3 755.9 1264.7 C757.62 1270.1 758.95 1276.27 760.3 1282.4 C761.65 1288.53 762.9 1294.65 764 1301.5 C765.1 1308.35 765.92 1316.15 766.9 1323.5 C767.88 1330.85 769.03 1338.25 769.9 1345.6 C770.77 1352.95 771.68 1361.72 772.1 1367.6 C772.52 1373.48 772.35 1378.68 772.4 1380.9" fill="none" stroke="#111" stroke-width="1.8" stroke-linejoin="round" stroke-linecap="round"/>
<path d="M565.2 1380 C565.23 1373.03 565.23 1350.07 565.4 1338.2 C565.57 1326.33 565.87 1318.6 566.2 1308.8 C566.53 1299 567.1 1288.37 567.4 1279.4 C567.7 1270.43 567.85 1262.3 568 1255 C568.15 1247.7 568.17 1242.52 568.3 1235.6 C568.43 1228.68 568.62 1220.85 568.8 1213.5 C568.98 1206.15 569.15 1197.13 569.4 1191.5 C569.65 1185.87 569.85 1183.13 570.3 1179.7 C570.75 1176.27 571.07 1173.23 572.1 1170.9 C573.13 1168.57 574.55 1167.05 576.5 1165.7 C578.45 1164.35 580.87 1163.65 583.8 1162.8 C586.73 1161.95 589.93 1161.33 594.1 1160.6 C598.27 1159.87 603.17 1159.38 608.8 1158.4 C614.43 1157.42 622.5 1155.88 627.9 1154.7 C633.3 1153.52 637.03 1152.45 641.2 1151.3 C645.37 1150.15 648.93 1148.98 652.9 1147.8 C656.87 1146.62 661.32 1145.38 665 1144.2 C668.68 1143.02 670.88 1142.38 675 1140.7 C679.12 1139.02 685.53 1136.18 689.7 1134.1 C693.87 1132.02 695.83 1131.13 700 1128.2 C704.17 1125.27 709.8 1120.17 714.7 1116.5 C719.6 1112.83 724.5 1109.38 729.4 1106.2 C734.3 1103.02 739.2 1100.22 744.1 1097.4 C749 1094.58 753.9 1091.77 758.8 1089.3 C763.7 1086.83 768.6 1084.68 773.5 1082.6 C778.4 1080.52 783.3 1078.63 788.2 1076.8 C793.1 1074.97 798 1073.32 802.9 1071.6 C807.8 1069.88 812.68 1068.08 817.6 1066.5 C822.52 1064.92 827 1063.42 832.4 1062.1 C837.8 1060.78 844.62 1059.72 850 1058.6 C855.38 1057.48 859.43 1056.35 864.7 1055.4 C869.97 1054.45 878.78 1053.32 881.6 1052.9" fill="none" stroke="#ff1010" stroke-width="1.8" stroke-linejoin="round" stroke-linecap="round"/>
<path d="M564.8 1067.2 C564.92 1069.23 565.25 1075.32 565.5 1079.4 C565.75 1083.48 566 1088.02 566.3 1091.7 C566.6 1095.38 566.82 1098.65 567.3 1101.5 C567.78 1104.35 568.47 1106.35 569.2 1108.8 C569.93 1111.25 571.05 1113.75 571.7 1116.2 C572.35 1118.65 572.62 1121.3 573.1 1123.5 C573.58 1125.7 573.93 1127.35 574.6 1129.4 C575.27 1131.45 576.03 1133.92 577.1 1135.8 C578.17 1137.68 579.37 1139.4 581 1140.7 C582.63 1142 584.87 1142.87 586.9 1143.6 C588.93 1144.33 591.17 1144.45 593.2 1145.1 C595.23 1145.75 597.3 1146.85 599.1 1147.5 C600.9 1148.15 601.15 1148.05 604 1149 C606.85 1149.95 611.72 1151.77 616.2 1153.2 C620.68 1154.63 627.23 1156.45 630.9 1157.6 C634.57 1158.75 633.3 1158.62 638.2 1160.1 C643.1 1161.58 652.93 1164.33 660.3 1166.5 C667.67 1168.67 675.78 1171.05 682.4 1173.1 C689.02 1175.15 693.38 1176.83 700 1178.8 C706.62 1180.77 714.75 1182.92 722.1 1184.9 C729.45 1186.88 736.75 1188.62 744.1 1190.7 C751.45 1192.78 758.85 1194.82 766.2 1197.4 C773.55 1199.98 782.08 1203.38 788.2 1206.2 C794.32 1209.02 798.48 1211.37 802.9 1214.3 C807.32 1217.23 811.5 1220.5 814.7 1223.8 C817.9 1227.1 819.9 1231.15 822.1 1234.1 C824.3 1237.05 825.95 1239.02 827.9 1241.5 C829.85 1243.98 831.73 1245.13 833.8 1249 C835.87 1252.87 838.37 1259.13 840.3 1264.7 C842.23 1270.27 843.8 1276.27 845.4 1282.4 C847 1288.53 848.55 1294.65 849.9 1301.5 C851.25 1308.35 852.4 1316.15 853.5 1323.5 C854.6 1330.85 855.57 1338.25 856.5 1345.6 C857.43 1352.95 858.45 1361.72 859.1 1367.6 C859.75 1373.48 860.18 1378.68 860.4 1380.9" fill="none" stroke="#ff1010" stroke-width="1.8" stroke-linejoin="round" stroke-linecap="round"/>
<path d="M565.4 1379.4 C565.53 1374.98 565.87 1360.98 566.2 1352.9 C566.53 1344.82 566.92 1339.47 567.4 1330.9 C567.88 1322.33 568.45 1311.32 569.1 1301.5 C569.75 1291.68 570.68 1279.25 571.3 1272 C571.92 1264.75 572.18 1265.3 572.8 1258 C573.42 1250.7 574.27 1236.83 575 1228.2 C575.73 1219.57 576.58 1212.57 577.2 1206.2 C577.82 1199.83 578.22 1194.42 578.7 1190 C579.18 1185.58 579.25 1182.63 580.1 1179.7 C580.95 1176.77 582.2 1174.48 583.8 1172.4 C585.4 1170.32 587.48 1168.32 589.7 1167.2 C591.92 1166.08 592.68 1166.43 597.1 1165.7 C601.52 1164.97 609.35 1163.77 616.2 1162.8 C623.05 1161.83 629.63 1161.25 638.2 1159.9 C646.77 1158.55 660.23 1156.05 667.6 1154.7 C674.97 1153.35 677 1152.85 682.4 1151.8 C687.8 1150.75 693.38 1149.82 700 1148.4 C706.62 1146.98 714.75 1145.18 722.1 1143.3 C729.45 1141.42 736.75 1139.25 744.1 1137.1 C751.45 1134.95 758.85 1132.62 766.2 1130.4 C773.55 1128.18 780.85 1126.12 788.2 1123.8 C795.55 1121.48 802.93 1118.95 810.3 1116.5 C817.67 1114.05 825.78 1111.27 832.4 1109.1 C839.02 1106.93 844.62 1105.45 850 1103.5 C855.38 1101.55 859.8 1099.65 864.7 1097.4 C869.6 1095.15 874.5 1092.58 879.4 1090 C884.3 1087.42 889.2 1084.6 894.1 1081.9 C899 1079.2 903.9 1076.5 908.8 1073.8 C913.7 1071.1 918.6 1068.27 923.5 1065.7 C928.4 1063.13 932.43 1060.53 938.2 1058.4 C943.97 1056.27 954.78 1053.82 958.1 1052.9" fill="none" stroke="#1010ff" stroke-width="1.8" stroke-linejoin="round" stroke-linecap="round"/>
<path d="M565.3 1057.4 C565.47 1059.43 565.9 1065.12 566.3 1069.6 C566.7 1074.08 567.13 1080.22 567.7 1084.3 C568.27 1088.38 569.03 1091.23 569.7 1094.1 C570.37 1096.97 571.05 1099.45 571.7 1101.5 C572.35 1103.55 572.7 1104.93 573.6 1106.4 C574.5 1107.87 575.7 1109.17 577.1 1110.3 C578.5 1111.43 580.62 1112.22 582 1113.2 C583.38 1114.18 584.18 1114.88 585.4 1116.2 C586.62 1117.52 588.15 1119.3 589.3 1121.1 C590.45 1122.9 591.32 1125.12 592.3 1127 C593.28 1128.88 594.07 1130.62 595.2 1132.4 C596.33 1134.18 597.63 1136.15 599.1 1137.7 C600.57 1139.25 602.18 1140.72 604 1141.7 C605.82 1142.68 607.97 1143.07 610 1143.6 C612.03 1144.13 613.45 1144.27 616.2 1144.9 C618.95 1145.53 622.83 1146.47 626.5 1147.4 C630.17 1148.33 632.57 1149.23 638.2 1150.5 C643.83 1151.77 652.93 1153.43 660.3 1155 C667.67 1156.57 675.78 1158.18 682.4 1159.9 C689.02 1161.62 693.38 1163.35 700 1165.3 C706.62 1167.25 714.75 1169.57 722.1 1171.6 C729.45 1173.63 736.75 1175.67 744.1 1177.5 C751.45 1179.33 758.85 1181 766.2 1182.6 C773.55 1184.2 780.85 1185.62 788.2 1187.1 C795.55 1188.58 802.93 1189.92 810.3 1191.5 C817.67 1193.08 825.78 1194.95 832.4 1196.6 C839.02 1198.25 844.62 1200.05 850 1201.4 C855.38 1202.75 859.8 1203.17 864.7 1204.7 C869.6 1206.23 874.98 1208.63 879.4 1210.6 C883.82 1212.57 887.77 1214.3 891.2 1216.5 C894.63 1218.7 897.55 1221.12 900 1223.8 C902.45 1226.48 903.93 1229.65 905.9 1232.6 C907.87 1235.55 909.35 1238.8 911.8 1241.5 C914.25 1244.2 917.82 1246.15 920.6 1248.8 C923.38 1251.45 926.2 1254.02 928.5 1257.4 C930.8 1260.78 932.55 1264.45 934.4 1269.1 C936.25 1273.75 938.13 1279.9 939.6 1285.3 C941.07 1290.7 941.98 1295.62 943.2 1301.5 C944.42 1307.38 945.78 1314.48 946.9 1320.6 C948.02 1326.72 948.92 1331.58 949.9 1338.2 C950.88 1344.82 951.95 1353.18 952.8 1360.3 C953.65 1367.42 954.63 1377.47 955 1380.9" fill="none" stroke="#1010ff" stroke-width="1.8" stroke-linejoin="round" stroke-linecap="round"/>
<rect x="583.4" y="1311.6" width="124.9" height="73.7" fill="#fff"/>
<rect x="583.4" y="1311.6" width="124.9" height="73.7" fill="none" stroke="#888" stroke-width="1.2"/>
<line x1="589.3" y1="1327.9" x2="626" y2="1327.9" stroke="#111" stroke-width="1.6" stroke-linecap="butt"/>
<line x1="589.3" y1="1351" x2="626" y2="1351" stroke="#ff1a1a" stroke-width="1.6" stroke-linecap="butt"/>
<line x1="589.3" y1="1373.9" x2="626" y2="1373.9" stroke="#2a2aff" stroke-width="1.6" stroke-linecap="butt"/>
<text transform="translate(631.1 1333.5)" font-size="16" fill="#111" stroke="#111" stroke-width="0.25">1</text>
<text transform="translate(639.3 1326.3)" font-size="10" textLength="8.4" lengthAdjust="spacingAndGlyphs" fill="#111" stroke="#111" stroke-width="0.25">st</text>
<text transform="translate(652.5 1333.5)" font-size="16" textLength="35.9" lengthAdjust="spacingAndGlyphs" fill="#111" stroke="#111" stroke-width="0.25">cycle</text>
<text transform="translate(630.5 1356.9)" font-size="16" fill="#111" stroke="#111" stroke-width="0.25">2</text>
<text transform="translate(640.4 1349.3)" font-size="10" textLength="10.3" lengthAdjust="spacingAndGlyphs" fill="#111" stroke="#111" stroke-width="0.25">nd</text>
<text transform="translate(655.9 1356.9)" font-size="16" textLength="36" lengthAdjust="spacingAndGlyphs" fill="#111" stroke="#111" stroke-width="0.25">cycle</text>
<text transform="translate(630.5 1379.8)" font-size="16" textLength="15.1" lengthAdjust="spacingAndGlyphs" fill="#111" stroke="#111" stroke-width="0.25">50</text>
<text transform="translate(646.6 1372.2)" font-size="10" textLength="9.6" lengthAdjust="spacingAndGlyphs" fill="#111" stroke="#111" stroke-width="0.25">th</text>
<text transform="translate(662.1 1379.8)" font-size="16" textLength="35.9" lengthAdjust="spacingAndGlyphs" fill="#111" stroke="#111" stroke-width="0.25">cycle</text>
<rect x="96.9" y="1828.3" width="763.7" height="535.4" fill="none" stroke="#000" stroke-width="2"/>
<line x1="96.9" y1="1828.3" x2="107.9" y2="1828.3" stroke="#000" stroke-width="2" stroke-linecap="butt"/>
<line x1="96.9" y1="1892.04" x2="104.4" y2="1892.04" stroke="#000" stroke-width="2" stroke-linecap="butt"/>
<line x1="96.9" y1="1955.78" x2="107.9" y2="1955.78" stroke="#000" stroke-width="2" stroke-linecap="butt"/>
<line x1="96.9" y1="2019.52" x2="104.4" y2="2019.52" stroke="#000" stroke-width="2" stroke-linecap="butt"/>
<line x1="96.9" y1="2083.26" x2="107.9" y2="2083.26" stroke="#000" stroke-width="2" stroke-linecap="butt"/>
<line x1="96.9" y1="2147" x2="104.4" y2="2147" stroke="#000" stroke-width="2" stroke-linecap="butt"/>
<line x1="96.9" y1="2210.74" x2="107.9" y2="2210.74" stroke="#000" stroke-width="2" stroke-linecap="butt"/>
<line x1="96.9" y1="2274.48" x2="104.4" y2="2274.48" stroke="#000" stroke-width="2" stroke-linecap="butt"/>
<line x1="96.9" y1="2338.22" x2="107.9" y2="2338.22" stroke="#000" stroke-width="2" stroke-linecap="butt"/>
<line x1="97.2" y1="1828.3" x2="97.2" y2="1839.3" stroke="#000" stroke-width="2" stroke-linecap="butt"/>
<line x1="179.4" y1="1828.3" x2="179.4" y2="1835.8" stroke="#000" stroke-width="2" stroke-linecap="butt"/>
<line x1="261.6" y1="1828.3" x2="261.6" y2="1839.3" stroke="#000" stroke-width="2" stroke-linecap="butt"/>
<line x1="343.8" y1="1828.3" x2="343.8" y2="1835.8" stroke="#000" stroke-width="2" stroke-linecap="butt"/>
<line x1="426" y1="1828.3" x2="426" y2="1839.3" stroke="#000" stroke-width="2" stroke-linecap="butt"/>
<line x1="508.2" y1="1828.3" x2="508.2" y2="1835.8" stroke="#000" stroke-width="2" stroke-linecap="butt"/>
<line x1="590.4" y1="1828.3" x2="590.4" y2="1839.3" stroke="#000" stroke-width="2" stroke-linecap="butt"/>
<line x1="672.6" y1="1828.3" x2="672.6" y2="1835.8" stroke="#000" stroke-width="2" stroke-linecap="butt"/>
<line x1="754.8" y1="1828.3" x2="754.8" y2="1839.3" stroke="#000" stroke-width="2" stroke-linecap="butt"/>
<line x1="837" y1="1828.3" x2="837" y2="1835.8" stroke="#000" stroke-width="2" stroke-linecap="butt"/>
<line x1="96.9" y1="2363.7" x2="96.9" y2="2352.7" stroke="#000" stroke-width="2" stroke-linecap="butt"/>
<line x1="173.27" y1="2363.7" x2="173.27" y2="2356.2" stroke="#000" stroke-width="2" stroke-linecap="butt"/>
<line x1="249.64" y1="2363.7" x2="249.64" y2="2352.7" stroke="#000" stroke-width="2" stroke-linecap="butt"/>
<line x1="326.01" y1="2363.7" x2="326.01" y2="2356.2" stroke="#000" stroke-width="2" stroke-linecap="butt"/>
<line x1="402.38" y1="2363.7" x2="402.38" y2="2352.7" stroke="#000" stroke-width="2" stroke-linecap="butt"/>
<line x1="478.75" y1="2363.7" x2="478.75" y2="2356.2" stroke="#000" stroke-width="2" stroke-linecap="butt"/>
<line x1="555.12" y1="2363.7" x2="555.12" y2="2352.7" stroke="#000" stroke-width="2" stroke-linecap="butt"/>
<line x1="631.49" y1="2363.7" x2="631.49" y2="2356.2" stroke="#000" stroke-width="2" stroke-linecap="butt"/>
<line x1="707.86" y1="2363.7" x2="707.86" y2="2352.7" stroke="#000" stroke-width="2" stroke-linecap="butt"/>
<line x1="784.23" y1="2363.7" x2="784.23" y2="2356.2" stroke="#000" stroke-width="2" stroke-linecap="butt"/>
<line x1="860.6" y1="2363.7" x2="860.6" y2="2352.7" stroke="#000" stroke-width="2" stroke-linecap="butt"/>
<text transform="translate(89.2 1839.9) scale(1 1.03)" font-size="31.5" font-weight="bold" text-anchor="end" stroke="#000" stroke-width="0.35">4.8</text>
<text transform="translate(89.2 1967.38) scale(1 1.03)" font-size="31.5" font-weight="bold" text-anchor="end" stroke="#000" stroke-width="0.35">4.5</text>
<text transform="translate(89.2 2094.86) scale(1 1.03)" font-size="31.5" font-weight="bold" text-anchor="end" stroke="#000" stroke-width="0.35">4.2</text>
<text transform="translate(89.2 2222.34) scale(1 1.03)" font-size="31.5" font-weight="bold" text-anchor="end" stroke="#000" stroke-width="0.35">4.0</text>
<text transform="translate(89.2 2349.82) scale(1 1.03)" font-size="31.5" font-weight="bold" text-anchor="end" stroke="#000" stroke-width="0.35">3.8</text>
<text transform="translate(97.6 1819.6) scale(1 1.03)" font-size="31.5" font-weight="bold" text-anchor="middle" stroke="#000" stroke-width="0.35">0</text>
<text transform="translate(262 1819.6) scale(1 1.03)" font-size="31.5" font-weight="bold" text-anchor="middle" stroke="#000" stroke-width="0.35">40</text>
<text transform="translate(426.4 1819.6) scale(1 1.03)" font-size="31.5" font-weight="bold" text-anchor="middle" stroke="#000" stroke-width="0.35">80</text>
<text transform="translate(590.8 1819.6) scale(1 1.03)" font-size="31.5" font-weight="bold" text-anchor="middle" stroke="#000" stroke-width="0.35">120</text>
<text transform="translate(755.2 1819.6) scale(1 1.03)" font-size="31.5" font-weight="bold" text-anchor="middle" stroke="#000" stroke-width="0.35">160</text>
<text transform="translate(96.9 2394.3) scale(1 1.03)" font-size="31.5" font-weight="bold" text-anchor="middle" stroke="#000" stroke-width="0.35">0.0</text>
<text transform="translate(249.64 2394.3) scale(1 1.03)" font-size="31.5" font-weight="bold" text-anchor="middle" stroke="#000" stroke-width="0.35">0.2</text>
<text transform="translate(402.38 2394.3) scale(1 1.03)" font-size="31.5" font-weight="bold" text-anchor="middle" stroke="#000" stroke-width="0.35">0.4</text>
<text transform="translate(555.12 2394.3) scale(1 1.03)" font-size="31.5" font-weight="bold" text-anchor="middle" stroke="#000" stroke-width="0.35">0.6</text>
<text transform="translate(707.86 2394.3) scale(1 1.03)" font-size="31.5" font-weight="bold" text-anchor="middle" stroke="#000" stroke-width="0.35">0.8</text>
<text transform="translate(860.6 2394.3) scale(1 1.03)" font-size="31.5" font-weight="bold" text-anchor="middle" stroke="#000" stroke-width="0.35">1.0</text>
<text transform="translate(343.2 1783.3)" font-size="31.5" font-weight="bold" textLength="241" lengthAdjust="spacingAndGlyphs" stroke="#000" stroke-width="0.35">Capacity (mAhg</text>
<text transform="translate(587.4 1766)" font-size="20" font-weight="bold" textLength="16.5" lengthAdjust="spacingAndGlyphs" stroke="#000" stroke-width="0.35">-1</text>
<text transform="translate(606.8 1783.3)" font-size="31.5" font-weight="bold" textLength="10.5" lengthAdjust="spacingAndGlyphs" stroke="#000" stroke-width="0.35">)</text>
<text transform="translate(30.4 2245.3) rotate(-90)" font-size="32.5" font-weight="bold" textLength="301.4" lengthAdjust="spacingAndGlyphs" stroke="#000" stroke-width="0.35">Average Voltage (V)</text>
<text transform="translate(381.5 2426.5)" font-size="30.5" font-weight="bold" textLength="135" lengthAdjust="spacingAndGlyphs" stroke="#000" stroke-width="0.35">x in (FSI)</text>
<text transform="translate(517.8 2438.2)" font-size="22" font-weight="bold" textLength="10.8" lengthAdjust="spacingAndGlyphs" stroke="#000" stroke-width="0.35">x</text>
<text transform="translate(530 2426.5)" font-size="30.5" font-weight="bold" textLength="21.6" lengthAdjust="spacingAndGlyphs" stroke="#000" stroke-width="0.35">C</text>
<text transform="translate(555.9 2438.2)" font-size="25" font-weight="bold" textLength="21.2" lengthAdjust="spacingAndGlyphs" stroke="#000" stroke-width="0.35">12</text>
<text transform="translate(429.9 2527.9)" font-size="65.5" font-weight="bold" textLength="83.3" lengthAdjust="spacingAndGlyphs" stroke="#000" stroke-width="0.35">(c)</text>
<path d="M96.9 2288.5 H288.2 V2202.7 H351.8 V2058.3 H479.3 V1892.8 H860.6" fill="none" stroke="#000" stroke-width="2.7" stroke-linejoin="miter" stroke-linecap="butt"/>
<text transform="translate(142.2 2274.3) scale(1 1.1)" font-size="21" font-weight="bold" textLength="84.3" lengthAdjust="spacingAndGlyphs" stroke="#000" stroke-width="0.1">Stage IV</text>
<text transform="translate(258.8 2189.5) scale(1 1.1)" font-size="21" font-weight="bold" textLength="80.4" lengthAdjust="spacingAndGlyphs" stroke="#000" stroke-width="0.1">Stage III</text>
<text transform="translate(376.4 2045.1) scale(1 1.1)" font-size="21" font-weight="bold" textLength="75" lengthAdjust="spacingAndGlyphs" stroke="#000" stroke-width="0.1">Stage II</text>
<text transform="translate(637.4 1880) scale(1 1.1)" font-size="21" font-weight="bold" textLength="68.6" lengthAdjust="spacingAndGlyphs" stroke="#000" stroke-width="0.1">Stage I</text>
<rect x="499.1" y="1919" width="510.5" height="407" fill="#fff"/>
<rect x="499.1" y="1919" width="510.5" height="407" fill="none" stroke="#1a1a1a" stroke-width="1.6"/>
<line x1="585.3" y1="1926.8" x2="585.3" y2="2256.7" stroke="#333" stroke-width="1.4" stroke-linecap="butt"/>
<line x1="584.6" y1="2256" x2="992.1" y2="2256" stroke="#333" stroke-width="1.4" stroke-linecap="butt"/>
<line x1="579.3" y1="1927.4" x2="585.3" y2="1927.4" stroke="#333" stroke-width="1.4" stroke-linecap="butt"/>
<line x1="582.5" y1="1952.62" x2="585.3" y2="1952.62" stroke="#333" stroke-width="1.4" stroke-linecap="butt"/>
<line x1="579.3" y1="1977.85" x2="585.3" y2="1977.85" stroke="#333" stroke-width="1.4" stroke-linecap="butt"/>
<line x1="582.5" y1="2003.08" x2="585.3" y2="2003.08" stroke="#333" stroke-width="1.4" stroke-linecap="butt"/>
<line x1="579.3" y1="2028.3" x2="585.3" y2="2028.3" stroke="#333" stroke-width="1.4" stroke-linecap="butt"/>
<line x1="582.5" y1="2053.53" x2="585.3" y2="2053.53" stroke="#333" stroke-width="1.4" stroke-linecap="butt"/>
<line x1="579.3" y1="2078.75" x2="585.3" y2="2078.75" stroke="#333" stroke-width="1.4" stroke-linecap="butt"/>
<line x1="582.5" y1="2103.97" x2="585.3" y2="2103.97" stroke="#333" stroke-width="1.4" stroke-linecap="butt"/>
<line x1="579.3" y1="2129.2" x2="585.3" y2="2129.2" stroke="#333" stroke-width="1.4" stroke-linecap="butt"/>
<line x1="582.5" y1="2154.43" x2="585.3" y2="2154.43" stroke="#333" stroke-width="1.4" stroke-linecap="butt"/>
<line x1="579.3" y1="2179.65" x2="585.3" y2="2179.65" stroke="#333" stroke-width="1.4" stroke-linecap="butt"/>
<line x1="582.5" y1="2204.88" x2="585.3" y2="2204.88" stroke="#333" stroke-width="1.4" stroke-linecap="butt"/>
<line x1="579.3" y1="2230.1" x2="585.3" y2="2230.1" stroke="#333" stroke-width="1.4" stroke-linecap="butt"/>
<line x1="582.5" y1="2255.33" x2="585.3" y2="2255.33" stroke="#333" stroke-width="1.4" stroke-linecap="butt"/>
<line x1="584.4" y1="2256" x2="584.4" y2="2259" stroke="#333" stroke-width="1.4" stroke-linecap="butt"/>
<line x1="615.7" y1="2256" x2="615.7" y2="2261.6" stroke="#333" stroke-width="1.4" stroke-linecap="butt"/>
<line x1="647" y1="2256" x2="647" y2="2259" stroke="#333" stroke-width="1.4" stroke-linecap="butt"/>
<line x1="678.3" y1="2256" x2="678.3" y2="2261.6" stroke="#333" stroke-width="1.4" stroke-linecap="butt"/>
<line x1="709.6" y1="2256" x2="709.6" y2="2259" stroke="#333" stroke-width="1.4" stroke-linecap="butt"/>
<line x1="740.9" y1="2256" x2="740.9" y2="2261.6" stroke="#333" stroke-width="1.4" stroke-linecap="butt"/>
<line x1="772.2" y1="2256" x2="772.2" y2="2259" stroke="#333" stroke-width="1.4" stroke-linecap="butt"/>
<line x1="803.5" y1="2256" x2="803.5" y2="2261.6" stroke="#333" stroke-width="1.4" stroke-linecap="butt"/>
<line x1="834.8" y1="2256" x2="834.8" y2="2259" stroke="#333" stroke-width="1.4" stroke-linecap="butt"/>
<line x1="866.1" y1="2256" x2="866.1" y2="2261.6" stroke="#333" stroke-width="1.4" stroke-linecap="butt"/>
<line x1="897.4" y1="2256" x2="897.4" y2="2259" stroke="#333" stroke-width="1.4" stroke-linecap="butt"/>
<line x1="928.7" y1="2256" x2="928.7" y2="2261.6" stroke="#333" stroke-width="1.4" stroke-linecap="butt"/>
<line x1="960" y1="2256" x2="960" y2="2259" stroke="#333" stroke-width="1.4" stroke-linecap="butt"/>
<line x1="991.3" y1="2256" x2="991.3" y2="2261.6" stroke="#333" stroke-width="1.4" stroke-linecap="butt"/>
<text transform="translate(573.5 1933.9)" font-size="18.3" font-weight="bold" text-anchor="end" stroke="#000" stroke-width="0.35">5.5</text>
<text transform="translate(573.5 1984.35)" font-size="18.3" font-weight="bold" text-anchor="end" stroke="#000" stroke-width="0.35">5.0</text>
<text transform="translate(573.5 2034.8)" font-size="18.3" font-weight="bold" text-anchor="end" stroke="#000" stroke-width="0.35">4.5</text>
<text transform="translate(573.5 2085.25)" font-size="18.3" font-weight="bold" text-anchor="end" stroke="#000" stroke-width="0.35">4.0</text>
<text transform="translate(573.5 2135.7)" font-size="18.3" font-weight="bold" text-anchor="end" stroke="#000" stroke-width="0.35">3.5</text>
<text transform="translate(573.5 2186.15)" font-size="18.3" font-weight="bold" text-anchor="end" stroke="#000" stroke-width="0.35">3.0</text>
<text transform="translate(573.5 2236.6)" font-size="18.3" font-weight="bold" text-anchor="end" stroke="#000" stroke-width="0.35">2.5</text>
<text transform="translate(615.7 2282.3)" font-size="18.3" font-weight="bold" text-anchor="middle" stroke="#000" stroke-width="0.35">0</text>
<text transform="translate(678.3 2282.3)" font-size="18.3" font-weight="bold" text-anchor="middle" stroke="#000" stroke-width="0.35">20</text>
<text transform="translate(740.9 2282.3)" font-size="18.3" font-weight="bold" text-anchor="middle" stroke="#000" stroke-width="0.35">40</text>
<text transform="translate(803.5 2282.3)" font-size="18.3" font-weight="bold" text-anchor="middle" stroke="#000" stroke-width="0.35">60</text>
<text transform="translate(866.1 2282.3)" font-size="18.3" font-weight="bold" text-anchor="middle" stroke="#000" stroke-width="0.35">80</text>
<text transform="translate(928.7 2282.3)" font-size="18.3" font-weight="bold" text-anchor="middle" stroke="#000" stroke-width="0.35">100</text>
<text transform="translate(991.3 2282.3)" font-size="18.3" font-weight="bold" text-anchor="middle" stroke="#000" stroke-width="0.35">120</text>
<text transform="translate(526 2191.4) rotate(-90)" font-size="21.7" font-weight="bold" textLength="178.8" lengthAdjust="spacingAndGlyphs" stroke="#000" stroke-width="0.35">Potential (V vs Li</text>
<text transform="translate(515.8 2014) rotate(-90)" font-size="13" font-weight="bold" stroke="#000" stroke-width="0.35">+</text>
<text transform="translate(526 2005.5) rotate(-90)" font-size="21.7" font-weight="bold" textLength="34.5" lengthAdjust="spacingAndGlyphs" stroke="#000" stroke-width="0.35">/Li)</text>
<text transform="translate(695.8 2319)" font-size="21.3" font-weight="bold" textLength="185.4" lengthAdjust="spacingAndGlyphs" stroke="#000" stroke-width="0.35">Capacity (mAh/g)</text>
<path d="M615.7 1970.7 C616.75 1971.67 619.38 1974.5 622 1976.5 C624.62 1978.5 628 1980.48 631.4 1982.7 C634.8 1984.92 639 1987.57 642.4 1989.8 C645.8 1992.03 648.8 1994.13 651.8 1996.1 C654.8 1998.07 657.78 2000.35 660.4 2001.6 C663.02 2002.85 663.72 2002.9 667.5 2003.6 C671.28 2004.3 677.35 2005.1 683.1 2005.8 C688.85 2006.5 695.45 2007.02 702 2007.8 C708.55 2008.58 716.4 2009.58 722.4 2010.5 C728.4 2011.42 733.35 2012.33 738 2013.3 C742.65 2014.27 745.68 2014.85 750.3 2016.3 C754.92 2017.75 760.52 2019.62 765.7 2022 C770.88 2024.38 776.17 2027.47 781.4 2030.6 C786.63 2033.73 792.4 2038.05 797.1 2040.8 C801.8 2043.55 804.38 2045.02 809.6 2047.1 C814.82 2049.18 821.33 2050.95 828.4 2053.3 C835.47 2055.65 846.73 2059.53 852 2061.2 C857.27 2062.87 856.08 2061.97 860 2063.3 C863.92 2064.63 870.83 2067.33 875.5 2069.2 C880.17 2071.07 884.5 2072.7 888 2074.5 C891.5 2076.3 894.05 2078.3 896.5 2080 C898.95 2081.7 900.87 2082.48 902.7 2084.7 C904.53 2086.92 906.05 2090.17 907.5 2093.3 C908.95 2096.43 910.37 2099.83 911.4 2103.5 C912.43 2107.17 912.92 2110.72 913.7 2115.3 C914.48 2119.88 915.32 2125.77 916.1 2131 C916.88 2136.23 917.75 2141.47 918.4 2146.7 C919.05 2151.93 919.47 2157.18 920 2162.4 C920.53 2167.62 921.08 2172.78 921.6 2178 C922.12 2183.22 922.45 2187.82 923.1 2193.7 C923.75 2199.58 924.77 2207.15 925.5 2213.3 C926.23 2219.45 927.17 2227.72 927.5 2230.6" fill="none" stroke="#ff3636" stroke-width="2.1" stroke-linejoin="round" stroke-linecap="round"/>
<path d="M616.1 2221.5 C616.23 2218.08 616.7 2207.68 616.9 2201 C617.1 2194.32 617.1 2188.6 617.3 2181.4 C617.5 2174.2 617.83 2165.65 618.1 2157.8 C618.37 2149.95 618.52 2141.5 618.9 2134.3 C619.28 2127.1 619.88 2121.15 620.4 2114.6 C620.92 2108.05 621.47 2101.55 622 2095 C622.53 2088.45 623.08 2081.2 623.6 2075.3 C624.12 2069.4 624.58 2064.3 625.1 2059.6 C625.62 2054.9 625.97 2050.03 626.7 2047.1 C627.43 2044.17 628.33 2043.58 629.5 2042 C630.67 2040.42 630.77 2039.12 633.7 2037.6 C636.63 2036.08 642.27 2034.33 647.1 2032.9 C651.93 2031.47 657.48 2030.22 662.7 2029 C667.92 2027.78 673.17 2026.57 678.4 2025.6 C683.63 2024.63 688.87 2023.93 694.1 2023.2 C699.33 2022.47 704.57 2021.93 709.8 2021.2 C715.03 2020.47 721.05 2019.72 725.5 2018.8 C729.95 2017.88 733.1 2017 736.5 2015.7 C739.9 2014.4 743.32 2012.37 745.9 2011 C748.48 2009.63 749.23 2008.93 752 2007.5 C754.77 2006.07 758.65 2004.17 762.5 2002.4 C766.35 2000.63 771.43 1998.87 775.1 1996.9 C778.77 1994.93 780.83 1991.78 784.5 1990.6 C788.17 1989.42 789.78 1990.07 797.1 1989.8 C804.42 1989.53 817.95 1989.35 828.4 1989 C838.85 1988.65 851.6 1988.22 859.8 1987.7 C868 1987.18 871.68 1986.73 877.6 1985.9 C883.52 1985.07 889.42 1983.88 895.3 1982.7 C901.18 1981.52 908 1980.03 912.9 1978.8 C917.8 1977.57 920.77 1976.57 924.7 1975.3 C928.63 1974.03 932.97 1972.43 936.5 1971.2 C940.03 1969.97 944.33 1968.45 945.9 1967.9" fill="none" stroke="#ff3636" stroke-width="2.1" stroke-linejoin="round" stroke-linecap="round"/>
</svg>
</body></html>
